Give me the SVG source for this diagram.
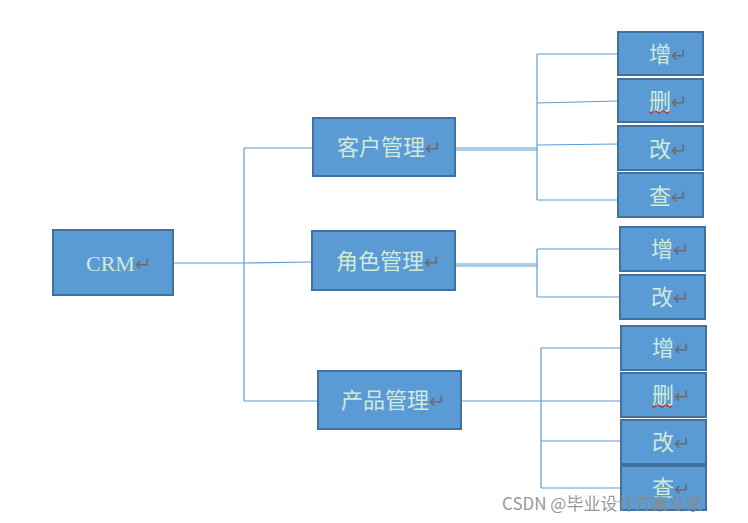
<svg xmlns="http://www.w3.org/2000/svg" width="748" height="523" viewBox="0 0 748 523">
<style>
.b{fill:#5b9bd5;stroke:#41719c;stroke-width:2}
.t{font-family:"Liberation Serif","Noto Sans CJK SC",serif;font-size:22px;fill:#d0ead6}
.r{fill:#6d6d6d;font-family:"DejaVu Sans",sans-serif;font-size:20px}
.c{fill:none;stroke:#5b9bd5;stroke-width:1.2}
</style>
<rect width="748" height="523" fill="#fff"/>
<g id="connectors">
<path class="c" d="M173 263H244M244 148V401M244 148H313M244 263L312 262M244 401H318"/>
<path class="c" d="M455 148H537M455 150H537M537 54V200M537 54H618M537 103L618 101M537 145L618 144M537 200H618"/>
<path class="c" d="M455 264H537M455 266H537M537 249V297M537 249H620M537 297H620"/>
<path class="c" d="M461 401H541M541 348V488M541 348H621M541 401H621M541 441H621M541 488H621"/>
</g>
<g id="crm"><rect class="b" x="53" y="230" width="120" height="65"/><text class="t" x="86" y="271">CRM<tspan class="r">↵</tspan></text></g>
<g id="kh"><rect class="b" x="313" y="118" width="142" height="58"/><text class="t" x="337" y="155">客户管理<tspan class="r">↵</tspan></text></g>
<g id="js"><rect class="b" x="312" y="231" width="143" height="59"/><text class="t" x="336" y="269">角色管理<tspan class="r">↵</tspan></text></g>
<g id="cp"><rect class="b" x="318" y="371" width="143" height="58"/><text class="t" x="341" y="408">产品管理<tspan class="r">↵</tspan></text></g>
<g id="a1"><rect class="b" x="618" y="32" width="85" height="43"/><text class="t" x="649" y="62">增<tspan class="r">↵</tspan></text></g>
<g id="a2"><rect class="b" x="618" y="79" width="85" height="43"/><text class="t" x="649" y="109">删<tspan class="r">↵</tspan></text><path d="M649 112q2 3 4 0t4 0t4 0t4 0t4 0" fill="none" stroke="#e00" stroke-width="1"/></g>
<g id="a3"><rect class="b" x="618" y="126" width="85" height="44"/><text class="t" x="649" y="157">改<tspan class="r">↵</tspan></text></g>
<g id="a4"><rect class="b" x="618" y="173" width="85" height="44"/><text class="t" x="649" y="204">查<tspan class="r">↵</tspan></text></g>
<g id="b1"><rect class="b" x="620" y="227" width="85" height="44"/><text class="t" x="651" y="257">增<tspan class="r">↵</tspan></text></g>
<g id="b2"><rect class="b" x="620" y="275" width="85" height="44"/><text class="t" x="651" y="305">改<tspan class="r">↵</tspan></text></g>
<g id="c1"><rect class="b" x="621" y="326" width="85" height="44"/><text class="t" x="652" y="356">增<tspan class="r">↵</tspan></text></g>
<g id="c2"><rect class="b" x="621" y="373" width="85" height="44"/><text class="t" x="652" y="403">删<tspan class="r">↵</tspan></text><path d="M652 406q2 3 4 0t4 0t4 0t4 0t4 0" fill="none" stroke="#e00" stroke-width="1"/></g>
<g id="c3"><rect class="b" x="621" y="420" width="85" height="44"/><text class="t" x="652" y="450">改<tspan class="r">↵</tspan></text></g>
<g id="c4"><rect class="b" x="621" y="466" width="85" height="44"/><text class="t" x="652" y="496">查<tspan class="r">↵</tspan></text></g>
<text x="502" y="510" font-family="Noto Sans CJK SC,sans-serif" font-size="17" fill="#8a8a8a" fill-opacity="0.9">CSDN @毕业设计方案专家</text>
</svg>
